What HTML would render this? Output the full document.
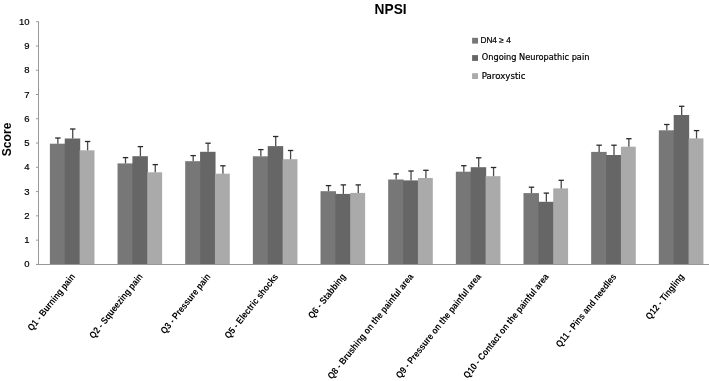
<!DOCTYPE html><html><head><meta charset="utf-8"><title>NPSI</title><style>html,body{margin:0;padding:0;background:#fff;width:709px;height:381px;overflow:hidden}svg{display:block}text{font-family:"Liberation Sans",Arial,sans-serif;fill:#000}</style></head><body>
<svg width="709" height="381" viewBox="0 0 709 381">
<rect width="709" height="381" fill="#fff"/>
<text x="374.6" y="13.8" font-size="14.8" font-weight="bold" textLength="32" lengthAdjust="spacingAndGlyphs">NPSI</text>
<text transform="translate(10.9,156.2) rotate(-90)" font-size="13" font-weight="bold" textLength="33.6" lengthAdjust="spacingAndGlyphs">Score</text>
<line x1="36" y1="264.40" x2="38.5" y2="264.40" stroke="#999999" stroke-width="1"/>
<text x="29.6" y="267.40" text-anchor="end" font-size="9.5" stroke="#000" stroke-width="0.2">0</text>
<line x1="36" y1="240.13" x2="38.5" y2="240.13" stroke="#999999" stroke-width="1"/>
<text x="29.6" y="243.13" text-anchor="end" font-size="9.5" stroke="#000" stroke-width="0.2">1</text>
<line x1="36" y1="215.86" x2="38.5" y2="215.86" stroke="#999999" stroke-width="1"/>
<text x="29.6" y="218.86" text-anchor="end" font-size="9.5" stroke="#000" stroke-width="0.2">2</text>
<line x1="36" y1="191.59" x2="38.5" y2="191.59" stroke="#999999" stroke-width="1"/>
<text x="29.6" y="194.59" text-anchor="end" font-size="9.5" stroke="#000" stroke-width="0.2">3</text>
<line x1="36" y1="167.32" x2="38.5" y2="167.32" stroke="#999999" stroke-width="1"/>
<text x="29.6" y="170.32" text-anchor="end" font-size="9.5" stroke="#000" stroke-width="0.2">4</text>
<line x1="36" y1="143.05" x2="38.5" y2="143.05" stroke="#999999" stroke-width="1"/>
<text x="29.6" y="146.05" text-anchor="end" font-size="9.5" stroke="#000" stroke-width="0.2">5</text>
<line x1="36" y1="118.78" x2="38.5" y2="118.78" stroke="#999999" stroke-width="1"/>
<text x="29.6" y="121.78" text-anchor="end" font-size="9.5" stroke="#000" stroke-width="0.2">6</text>
<line x1="36" y1="94.51" x2="38.5" y2="94.51" stroke="#999999" stroke-width="1"/>
<text x="29.6" y="97.51" text-anchor="end" font-size="9.5" stroke="#000" stroke-width="0.2">7</text>
<line x1="36" y1="70.24" x2="38.5" y2="70.24" stroke="#999999" stroke-width="1"/>
<text x="29.6" y="73.24" text-anchor="end" font-size="9.5" stroke="#000" stroke-width="0.2">8</text>
<line x1="36" y1="45.97" x2="38.5" y2="45.97" stroke="#999999" stroke-width="1"/>
<text x="29.6" y="48.97" text-anchor="end" font-size="9.5" stroke="#000" stroke-width="0.2">9</text>
<line x1="36" y1="21.70" x2="38.5" y2="21.70" stroke="#999999" stroke-width="1"/>
<text x="29.6" y="24.70" text-anchor="end" font-size="9.5" stroke="#000" stroke-width="0.2">10</text>
<rect x="49.88" y="143.70" width="15.47" height="121.30" fill="#777777"/>
<rect x="64.75" y="138.50" width="15.47" height="126.50" fill="#666666"/>
<rect x="79.62" y="150.30" width="14.87" height="114.70" fill="#aaaaaa"/>
<line x1="57.87" y1="143.70" x2="57.87" y2="138.00" stroke="#4a4a4a" stroke-width="1.3"/>
<line x1="55.16" y1="138.00" x2="60.57" y2="138.00" stroke="#2a2a2a" stroke-width="1.3"/>
<line x1="72.73" y1="138.50" x2="72.73" y2="129.00" stroke="#4a4a4a" stroke-width="1.3"/>
<line x1="70.03" y1="129.00" x2="75.44" y2="129.00" stroke="#2a2a2a" stroke-width="1.3"/>
<line x1="87.61" y1="150.30" x2="87.61" y2="141.50" stroke="#4a4a4a" stroke-width="1.3"/>
<line x1="84.91" y1="141.50" x2="90.31" y2="141.50" stroke="#2a2a2a" stroke-width="1.3"/>
<rect x="117.54" y="163.40" width="15.47" height="101.60" fill="#777777"/>
<rect x="132.41" y="156.20" width="15.47" height="108.80" fill="#666666"/>
<rect x="147.28" y="172.30" width="14.87" height="92.70" fill="#aaaaaa"/>
<line x1="125.52" y1="163.40" x2="125.52" y2="157.60" stroke="#4a4a4a" stroke-width="1.3"/>
<line x1="122.82" y1="157.60" x2="128.22" y2="157.60" stroke="#2a2a2a" stroke-width="1.3"/>
<line x1="140.40" y1="156.20" x2="140.40" y2="146.60" stroke="#4a4a4a" stroke-width="1.3"/>
<line x1="137.70" y1="146.60" x2="143.09" y2="146.60" stroke="#2a2a2a" stroke-width="1.3"/>
<line x1="155.27" y1="172.30" x2="155.27" y2="164.60" stroke="#4a4a4a" stroke-width="1.3"/>
<line x1="152.57" y1="164.60" x2="157.97" y2="164.60" stroke="#2a2a2a" stroke-width="1.3"/>
<rect x="185.20" y="161.20" width="15.47" height="103.80" fill="#777777"/>
<rect x="200.07" y="151.80" width="15.47" height="113.20" fill="#666666"/>
<rect x="214.94" y="173.70" width="14.87" height="91.30" fill="#aaaaaa"/>
<line x1="193.19" y1="161.20" x2="193.19" y2="155.60" stroke="#4a4a4a" stroke-width="1.3"/>
<line x1="190.49" y1="155.60" x2="195.88" y2="155.60" stroke="#2a2a2a" stroke-width="1.3"/>
<line x1="208.06" y1="151.80" x2="208.06" y2="143.20" stroke="#4a4a4a" stroke-width="1.3"/>
<line x1="205.36" y1="143.20" x2="210.75" y2="143.20" stroke="#2a2a2a" stroke-width="1.3"/>
<line x1="222.93" y1="173.70" x2="222.93" y2="165.80" stroke="#4a4a4a" stroke-width="1.3"/>
<line x1="220.23" y1="165.80" x2="225.62" y2="165.80" stroke="#2a2a2a" stroke-width="1.3"/>
<rect x="252.86" y="156.30" width="15.47" height="108.70" fill="#777777"/>
<rect x="267.73" y="146.10" width="15.47" height="118.90" fill="#666666"/>
<rect x="282.60" y="159.20" width="14.87" height="105.80" fill="#aaaaaa"/>
<line x1="260.84" y1="156.30" x2="260.84" y2="149.60" stroke="#4a4a4a" stroke-width="1.3"/>
<line x1="258.14" y1="149.60" x2="263.54" y2="149.60" stroke="#2a2a2a" stroke-width="1.3"/>
<line x1="275.71" y1="146.10" x2="275.71" y2="136.50" stroke="#4a4a4a" stroke-width="1.3"/>
<line x1="273.01" y1="136.50" x2="278.41" y2="136.50" stroke="#2a2a2a" stroke-width="1.3"/>
<line x1="290.58" y1="159.20" x2="290.58" y2="150.50" stroke="#4a4a4a" stroke-width="1.3"/>
<line x1="287.88" y1="150.50" x2="293.28" y2="150.50" stroke="#2a2a2a" stroke-width="1.3"/>
<rect x="320.52" y="191.20" width="15.47" height="73.80" fill="#777777"/>
<rect x="335.39" y="193.90" width="15.47" height="71.10" fill="#666666"/>
<rect x="350.26" y="192.90" width="14.87" height="72.10" fill="#aaaaaa"/>
<line x1="328.50" y1="191.20" x2="328.50" y2="185.60" stroke="#4a4a4a" stroke-width="1.3"/>
<line x1="325.81" y1="185.60" x2="331.20" y2="185.60" stroke="#2a2a2a" stroke-width="1.3"/>
<line x1="343.38" y1="193.90" x2="343.38" y2="184.90" stroke="#4a4a4a" stroke-width="1.3"/>
<line x1="340.68" y1="184.90" x2="346.07" y2="184.90" stroke="#2a2a2a" stroke-width="1.3"/>
<line x1="358.25" y1="192.90" x2="358.25" y2="184.90" stroke="#4a4a4a" stroke-width="1.3"/>
<line x1="355.55" y1="184.90" x2="360.94" y2="184.90" stroke="#2a2a2a" stroke-width="1.3"/>
<rect x="388.18" y="179.50" width="15.47" height="85.50" fill="#777777"/>
<rect x="403.05" y="180.40" width="15.47" height="84.60" fill="#666666"/>
<rect x="417.92" y="178.00" width="14.87" height="87.00" fill="#aaaaaa"/>
<line x1="396.16" y1="179.50" x2="396.16" y2="173.90" stroke="#4a4a4a" stroke-width="1.3"/>
<line x1="393.46" y1="173.90" x2="398.86" y2="173.90" stroke="#2a2a2a" stroke-width="1.3"/>
<line x1="411.03" y1="180.40" x2="411.03" y2="171.00" stroke="#4a4a4a" stroke-width="1.3"/>
<line x1="408.33" y1="171.00" x2="413.73" y2="171.00" stroke="#2a2a2a" stroke-width="1.3"/>
<line x1="425.90" y1="178.00" x2="425.90" y2="170.30" stroke="#4a4a4a" stroke-width="1.3"/>
<line x1="423.20" y1="170.30" x2="428.60" y2="170.30" stroke="#2a2a2a" stroke-width="1.3"/>
<rect x="455.84" y="171.70" width="15.47" height="93.30" fill="#777777"/>
<rect x="470.71" y="167.20" width="15.47" height="97.80" fill="#666666"/>
<rect x="485.58" y="176.20" width="14.87" height="88.80" fill="#aaaaaa"/>
<line x1="463.82" y1="171.70" x2="463.82" y2="165.70" stroke="#4a4a4a" stroke-width="1.3"/>
<line x1="461.12" y1="165.70" x2="466.52" y2="165.70" stroke="#2a2a2a" stroke-width="1.3"/>
<line x1="478.69" y1="167.20" x2="478.69" y2="157.80" stroke="#4a4a4a" stroke-width="1.3"/>
<line x1="476.00" y1="157.80" x2="481.39" y2="157.80" stroke="#2a2a2a" stroke-width="1.3"/>
<line x1="493.56" y1="176.20" x2="493.56" y2="167.50" stroke="#4a4a4a" stroke-width="1.3"/>
<line x1="490.87" y1="167.50" x2="496.26" y2="167.50" stroke="#2a2a2a" stroke-width="1.3"/>
<rect x="523.50" y="193.10" width="15.47" height="71.90" fill="#777777"/>
<rect x="538.37" y="201.80" width="15.47" height="63.20" fill="#666666"/>
<rect x="553.24" y="188.40" width="14.87" height="76.60" fill="#aaaaaa"/>
<line x1="531.48" y1="193.10" x2="531.48" y2="187.20" stroke="#4a4a4a" stroke-width="1.3"/>
<line x1="528.78" y1="187.20" x2="534.18" y2="187.20" stroke="#2a2a2a" stroke-width="1.3"/>
<line x1="546.35" y1="201.80" x2="546.35" y2="193.10" stroke="#4a4a4a" stroke-width="1.3"/>
<line x1="543.65" y1="193.10" x2="549.05" y2="193.10" stroke="#2a2a2a" stroke-width="1.3"/>
<line x1="561.22" y1="188.40" x2="561.22" y2="180.30" stroke="#4a4a4a" stroke-width="1.3"/>
<line x1="558.52" y1="180.30" x2="563.92" y2="180.30" stroke="#2a2a2a" stroke-width="1.3"/>
<rect x="591.16" y="151.90" width="15.47" height="113.10" fill="#777777"/>
<rect x="606.03" y="155.00" width="15.47" height="110.00" fill="#666666"/>
<rect x="620.90" y="146.70" width="14.87" height="118.30" fill="#aaaaaa"/>
<line x1="599.14" y1="151.90" x2="599.14" y2="145.20" stroke="#4a4a4a" stroke-width="1.3"/>
<line x1="596.44" y1="145.20" x2="601.84" y2="145.20" stroke="#2a2a2a" stroke-width="1.3"/>
<line x1="614.01" y1="155.00" x2="614.01" y2="145.20" stroke="#4a4a4a" stroke-width="1.3"/>
<line x1="611.31" y1="145.20" x2="616.71" y2="145.20" stroke="#2a2a2a" stroke-width="1.3"/>
<line x1="628.88" y1="146.70" x2="628.88" y2="138.70" stroke="#4a4a4a" stroke-width="1.3"/>
<line x1="626.18" y1="138.70" x2="631.58" y2="138.70" stroke="#2a2a2a" stroke-width="1.3"/>
<rect x="658.82" y="130.30" width="15.47" height="134.70" fill="#777777"/>
<rect x="673.69" y="115.00" width="15.47" height="150.00" fill="#666666"/>
<rect x="688.56" y="138.40" width="14.87" height="126.60" fill="#aaaaaa"/>
<line x1="666.80" y1="130.30" x2="666.80" y2="124.50" stroke="#4a4a4a" stroke-width="1.3"/>
<line x1="664.10" y1="124.50" x2="669.50" y2="124.50" stroke="#2a2a2a" stroke-width="1.3"/>
<line x1="681.67" y1="115.00" x2="681.67" y2="106.30" stroke="#4a4a4a" stroke-width="1.3"/>
<line x1="678.97" y1="106.30" x2="684.37" y2="106.30" stroke="#2a2a2a" stroke-width="1.3"/>
<line x1="696.54" y1="138.40" x2="696.54" y2="130.60" stroke="#4a4a4a" stroke-width="1.3"/>
<line x1="693.84" y1="130.60" x2="699.24" y2="130.60" stroke="#2a2a2a" stroke-width="1.3"/>
<line x1="38.5" y1="21.5" x2="38.5" y2="264.5" stroke="#999999" stroke-width="1"/>
<line x1="36" y1="264.5" x2="709" y2="264.5" stroke="#999999" stroke-width="1"/>
<text transform="translate(75.59,276.80) rotate(-51.5) scale(0.87,1)" text-anchor="end" font-size="9.6" font-weight="bold">Q1 - Burning pain</text>
<text transform="translate(143.25,276.80) rotate(-51.5) scale(0.87,1)" text-anchor="end" font-size="9.6" font-weight="bold">Q2 - Squeezing pain</text>
<text transform="translate(210.91,276.80) rotate(-51.5) scale(0.87,1)" text-anchor="end" font-size="9.6" font-weight="bold">Q3 - Pressure pain</text>
<text transform="translate(278.56,276.80) rotate(-51.5) scale(0.87,1)" text-anchor="end" font-size="9.6" font-weight="bold">Q5 - Electric shocks</text>
<text transform="translate(346.22,276.80) rotate(-51.5) scale(0.87,1)" text-anchor="end" font-size="9.6" font-weight="bold">Q6 - Stabbing</text>
<text transform="translate(413.88,276.80) rotate(-51.5) scale(0.87,1)" text-anchor="end" font-size="9.6" font-weight="bold">Q8 - Brushing on the painful area</text>
<text transform="translate(481.54,276.80) rotate(-51.5) scale(0.87,1)" text-anchor="end" font-size="9.6" font-weight="bold">Q9 - Pressure on the painful area</text>
<text transform="translate(549.20,276.80) rotate(-51.5) scale(0.87,1)" text-anchor="end" font-size="9.6" font-weight="bold">Q10 - Contact on the painful area</text>
<text transform="translate(616.86,276.80) rotate(-51.5) scale(0.87,1)" text-anchor="end" font-size="9.6" font-weight="bold">Q11 - Pins and needles</text>
<text transform="translate(684.52,276.80) rotate(-51.5) scale(0.87,1)" text-anchor="end" font-size="9.6" font-weight="bold">Q12 - Tingling</text>
<rect x="472.1" y="37.80" width="5.9" height="5.8" fill="#777777"/>
<text x="480.4" y="43.0" font-size="8.3" stroke="#000" stroke-width="0.2" style='font-family:"Liberation Sans",Arial,sans-serif'>DN4 ≥ 4</text>
<rect x="472.1" y="55.10" width="5.9" height="5.8" fill="#666666"/>
<text x="481.8" y="59.8" font-size="8.0" stroke="#000" stroke-width="0.2" textLength="107.6" lengthAdjust="spacingAndGlyphs" style='font-family:"DejaVu Sans",Verdana,sans-serif'>Ongoing Neuropathic pain</text>
<rect x="472.1" y="73.20" width="5.9" height="5.8" fill="#aaaaaa"/>
<text x="481.8" y="78.5" font-size="8.0" stroke="#000" stroke-width="0.2" textLength="43.6" lengthAdjust="spacingAndGlyphs" style='font-family:"DejaVu Sans",Verdana,sans-serif'>Paroxystic</text>
</svg></body></html>
